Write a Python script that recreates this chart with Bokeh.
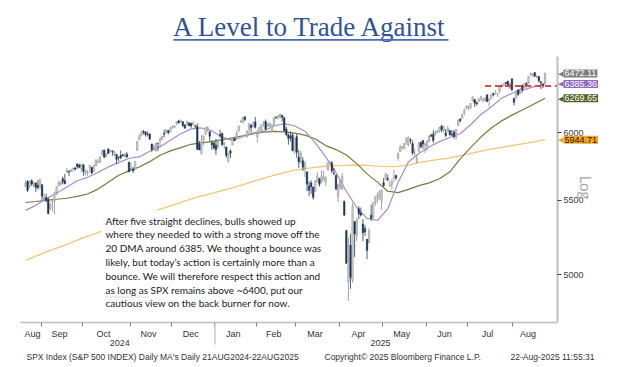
import math
from bokeh.plotting import figure
from bokeh.models import FixedTicker, LinearAxis, Label, BoxAnnotation, Range1d, NumeralTickFormatter
from bokeh.embed import file_html
from bokeh.resources import INLINE

# ---------------- data (S&P 500 daily, 21 Aug 2024 - 22 Aug 2025) ----------------
month_names = ["Aug", "Sep", "Oct", "Nov", "Dec", "Jan", "Feb", "Mar", "Apr", "May", "Jun", "Jul", "Aug"]
month_days = [8, 20, 23, 20, 21, 20, 19, 21, 21, 21, 20, 22, 16]
year_names = ["2024", "2025"]
year_first_month = [0, 5]

opens = [
    5603, 5637, 5603, 5640, 5602, 5624, 5607, 5612,
    5612, 5506, 5521, 5507, 5442, 5490, 5496, 5557, 5605, 5616, 5655, 5641, 5703, 5709, 5712, 5728, 5733, 5762, 5755, 5727,
    5757, 5698, 5698, 5737, 5738, 5712, 5752, 5778, 5775, 5830, 5866, 5817, 5875, 5860, 5857, 5833, 5834, 5813, 5826, 5831, 5816, 5835, 5776,
    5723, 5725, 5722, 5864, 5947, 5976, 6009, 6003, 5986, 5989, 5912, 5878, 5860, 5918, 5933, 5947, 5993, 6001, 6014, 6003,
    6040, 6042, 6069, 6089, 6081, 6083, 6057, 6060, 6074, 6069, 6063, 6053, 6047, 5912, 5842, 5941, 5985, 6024, 6006, 5920, 5920,
    5904, 5892, 5983, 5993, 5910, 5890, 5783, 5860, 5905, 5954, 5975, 6015, 6081, 6076, 6121, 5969, 6026, 6058, 6066, 6082,
    5969, 5990, 6020, 6073, 6084, 6047, 6050, 6007, 6060, 6116, 6122, 6118, 6134, 6115, 6027, 5982, 5971, 5981, 5856,
    5968, 5812, 5782, 5786, 5726, 5705, 5603, 5624, 5595, 5564, 5635, 5655, 5633, 5646, 5630, 5718, 5775, 5771, 5695, 5679, 5527,
    5598, 5580, 5492, 5292, 4953, 5193, 4966, 5353, 5256, 5441, 5412, 5336, 5305, 5232, 5208, 5396, 5381, 5489, 5529, 5509, 5499,
    5626, 5645, 5656, 5605, 5614, 5663, 5679, 5807, 5855, 5886, 5878, 5929, 5903, 5945, 5915, 5842, 5781, 5854, 5925, 5939, 5903,
    5897, 5938, 5978, 5986, 5987, 6004, 6010, 6050, 6010, 5997, 6005, 6013, 5985, 6004, 5970, 6055, 6104, 6111, 6151, 6193,
    6187, 6191, 6247, 6260, 6233, 6242, 6268, 6255, 6255, 6296, 6253, 6265, 6305, 6304, 6306, 6327, 6368, 6371, 6397, 6409, 6376, 6428,
    6270, 6272, 6337, 6309, 6375, 6353, 6389, 6397, 6461, 6454, 6479, 6445, 6447, 6404, 6380, 6389,
]
highs = [
    5643, 5643, 5641, 5651, 5632, 5627, 5646, 5651,
    5613, 5552, 5546, 5523, 5484, 5498, 5561, 5600, 5636, 5637, 5670, 5690, 5734, 5716, 5725, 5735, 5741, 5767, 5764, 5765,
    5758, 5720, 5718, 5753, 5739, 5758, 5797, 5796, 5822, 5871, 5870, 5842, 5878, 5865, 5866, 5863, 5834, 5818, 5863, 5837, 5848, 5851, 5779,
    5773, 5741, 5784, 5937, 5983, 6013, 6018, 6010, 6009, 5993, 5915, 5908, 5922, 5921, 5963, 5972, 6020, 6025, 6020, 6045,
    6053, 6053, 6089, 6099, 6100, 6089, 6065, 6092, 6080, 6078, 6086, 6058, 6070, 5935, 5982, 5978, 6040, 6049, 6007, 5941, 5930,
    5950, 5950, 6022, 6000, 5928, 5890, 5845, 5871, 5961, 5960, 6014, 6052, 6100, 6119, 6128, 6017, 6074, 6063, 6087, 6121,
    6022, 6042, 6062, 6084, 6101, 6074, 6076, 6063, 6116, 6127, 6130, 6147, 6135, 6118, 6044, 5992, 6009, 5994, 5960,
    5987, 5866, 5860, 5812, 5783, 5705, 5636, 5642, 5598, 5646, 5704, 5662, 5715, 5711, 5670, 5775, 5786, 5783, 5733, 5685, 5613,
    5650, 5696, 5500, 5292, 5246, 5267, 5481, 5353, 5381, 5459, 5450, 5368, 5328, 5232, 5309, 5469, 5489, 5529, 5554, 5571, 5581,
    5659, 5700, 5684, 5641, 5654, 5721, 5684, 5845, 5906, 5894, 5920, 5959, 5969, 5955, 5939, 5878, 5830, 5924, 5930, 5944, 5922,
    5938, 5982, 5991, 6017, 6017, 6022, 6044, 6059, 6045, 6027, 6051, 6023, 6019, 6019, 6026, 6102, 6109, 6146, 6188, 6215,
    6211, 6228, 6285, 6263, 6243, 6269, 6290, 6269, 6276, 6303, 6265, 6301, 6316, 6336, 6310, 6360, 6381, 6390, 6402, 6410, 6390, 6428,
    6270, 6330, 6344, 6350, 6379, 6390, 6402, 6446, 6481, 6474, 6482, 6457, 6448, 6405, 6393, 6480,
]
lows = [
    5595, 5560, 5585, 5603, 5593, 5560, 5577, 5582,
    5502, 5503, 5486, 5403, 5434, 5420, 5406, 5536, 5600, 5605, 5614, 5615, 5695, 5674, 5704, 5704, 5716, 5728, 5730, 5704,
    5676, 5679, 5675, 5702, 5690, 5707, 5746, 5764, 5775, 5830, 5804, 5811, 5840, 5847, 5824, 5821, 5763, 5784, 5799, 5819, 5811, 5811, 5703,
    5723, 5697, 5721, 5864, 5939, 5971, 5985, 5969, 5969, 5946, 5854, 5866, 5853, 5860, 5887, 5945, 5963, 5992, 5985, 6003,
    6028, 6034, 6058, 6069, 6077, 6044, 6027, 6060, 6051, 6036, 6060, 6035, 5867, 5866, 5832, 5903, 5983, 6007, 5932, 5869, 5871,
    5830, 5876, 5960, 5896, 5874, 5809, 5774, 5807, 5905, 5936, 5975, 6006, 6077, 6075, 6089, 5962, 5995, 6003, 6037, 6031,
    5924, 5990, 6007, 6045, 6020, 6044, 6042, 6004, 6051, 6104, 6100, 6111, 6085, 6009, 5975, 5908, 5932, 5858, 5837,
    5810, 5733, 5762, 5711, 5667, 5565, 5529, 5546, 5505, 5564, 5628, 5598, 5622, 5640, 5603, 5718, 5765, 5695, 5681, 5572, 5489,
    5574, 5578, 5390, 5069, 4835, 4911, 4950, 5115, 5221, 5369, 5387, 5220, 5255, 5101, 5208, 5357, 5372, 5463, 5478, 5505, 5433,
    5597, 5645, 5635, 5597, 5578, 5628, 5646, 5786, 5853, 5868, 5875, 5907, 5895, 5915, 5830, 5817, 5768, 5854, 5885, 5875, 5843,
    5861, 5922, 5967, 5921, 5978, 5995, 5998, 6002, 6004, 5963, 6003, 5975, 5973, 5953, 5944, 6051, 6078, 6106, 6133, 6180,
    6175, 6187, 6244, 6201, 6211, 6241, 6249, 6237, 6241, 6238, 6201, 6263, 6285, 6304, 6281, 6311, 6360, 6369, 6380, 6359, 6346, 6326,
    6212, 6272, 6289, 6303, 6316, 6353, 6358, 6385, 6456, 6441, 6441, 6432, 6397, 6343, 6353, 6387,
]
closes = [
    5621, 5571, 5635, 5617, 5626, 5592, 5592, 5648,
    5529, 5520, 5503, 5408, 5471, 5496, 5554, 5596, 5626, 5633, 5635, 5618, 5714, 5703, 5719, 5733, 5722, 5745, 5738, 5762,
    5709, 5710, 5700, 5751, 5696, 5751, 5792, 5780, 5815, 5860, 5815, 5842, 5841, 5865, 5854, 5851, 5797, 5810, 5808, 5824, 5833, 5814, 5705,
    5729, 5713, 5783, 5929, 5973, 5996, 6001, 5984, 5985, 5949, 5871, 5894, 5917, 5917, 5949, 5969, 5987, 6022, 5999, 6032,
    6047, 6050, 6086, 6075, 6090, 6053, 6035, 6084, 6051, 6051, 6074, 6051, 5872, 5867, 5931, 5974, 6040, 6038, 5971, 5907, 5882,
    5869, 5942, 5975, 5909, 5918, 5827, 5836, 5843, 5950, 5937, 5997, 6049, 6086, 6119, 6101, 6012, 6068, 6039, 6071, 6041,
    5995, 6038, 6061, 6084, 6026, 6066, 6069, 6052, 6115, 6115, 6130, 6144, 6118, 6013, 5983, 5955, 5956, 5862, 5955,
    5850, 5778, 5843, 5739, 5770, 5615, 5572, 5599, 5522, 5639, 5675, 5615, 5675, 5663, 5668, 5768, 5777, 5712, 5693, 5581, 5612,
    5633, 5671, 5397, 5074, 5062, 4983, 5457, 5268, 5363, 5406, 5397, 5276, 5283, 5158, 5288, 5376, 5485, 5525, 5529, 5561, 5569,
    5604, 5687, 5650, 5607, 5631, 5664, 5660, 5844, 5887, 5893, 5917, 5958, 5964, 5940, 5845, 5842, 5803, 5922, 5889, 5912, 5912,
    5936, 5970, 5971, 5939, 6000, 6006, 6039, 6022, 6045, 5977, 6033, 5983, 5981, 5968, 6025, 6092, 6092, 6141, 6173, 6205,
    6198, 6227, 6279, 6230, 6226, 6263, 6280, 6260, 6269, 6244, 6264, 6297, 6297, 6306, 6310, 6359, 6363, 6389, 6390, 6371, 6363, 6339,
    6238, 6330, 6299, 6345, 6340, 6389, 6373, 6446, 6467, 6469, 6450, 6449, 6411, 6396, 6370, 6472.11,
]

# moving averages, at these trading-day positions
ma_x = [0, 5, 10, 15, 20, 25, 30, 35, 40, 45, 50, 55, 60, 65, 70, 75, 80, 85, 90, 95, 100,
        105, 110, 115, 120, 125, 130, 135, 140, 145, 150, 155, 160, 165, 170, 175, 180, 185,
        190, 195, 200, 205, 210, 215, 220, 225, 230, 235, 240, 245, 251]
ma20 = [5430, 5465, 5512, 5550, 5595, 5640, 5665, 5700, 5741, 5773, 5805, 5815, 5858, 5892, 5940,
        5990, 6028, 6035, 6012, 5965, 5940, 5970, 5990, 6010, 6050, 6068, 6050, 6010, 5920, 5815,
        5700, 5565, 5450, 5375, 5360, 5440, 5628, 5777, 5840, 5890, 5930, 5962, 5990, 6060, 6140,
        6200, 6270, 6310, 6335, 6360, 6385.36]
ma50 = [5485, 5492, 5500, 5508, 5515, 5528, 5545, 5580, 5630, 5680, 5712, 5740, 5780, 5827, 5860,
        5885, 5910, 5920, 5930, 5943, 5960, 5975, 5995, 6003, 6008, 6005, 5995, 5980, 5950, 5900,
        5870, 5830, 5765, 5690, 5630, 5565, 5555, 5578, 5605, 5625, 5655, 5705, 5800, 5885, 5965,
        6035, 6090, 6135, 6175, 6218, 6269.65]
ma200 = [5092, 5120, 5148, 5173, 5199, 5227, 5252, 5277, 5305, 5330, 5359, 5384, 5410, 5437, 5461,
         5484, 5510, 5530, 5550, 5570, 5588, 5612, 5636, 5658, 5680, 5700, 5718, 5728, 5738, 5746,
         5750, 5753, 5755, 5752, 5747, 5743, 5745, 5755, 5773, 5785, 5796, 5808, 5825, 5840, 5858,
         5873, 5887, 5900, 5913, 5926, 5944.71]

last_price = 6472.11
trade_level = 6368
trade_level_from = 222
y_ticks = [5000, 5500, 6000]

title_text = "A Level to Trade Against"
note_text = ("After five straight declines, bulls showed up\n"
             "where they needed to with a strong move off the\n"
             "20 DMA around 6385. We thought a bounce was\n"
             "likely, but today\u2019s action is certainly more than a\n"
             "bounce. We will therefore respect this action and\n"
             "as long as SPX remains above ~6400, put our\n"
             "cautious view on the back burner for now.")
footer_left = "SPX Index (S&P 500 INDEX) Daily MA's  Daily 21AUG2024-22AUG2025"
footer_mid = "Copyright\u00a9 2025 Bloomberg Finance L.P."
footer_right = "22-Aug-2025 11:55:31"

# ---------------- layout / styling ----------------
SANS = "Liberation Sans"
C_UP_FILL, C_UP_LINE = "#D4D4D4", "#8C8C8C"
C_DN = "#1F3756"
C_MA20, C_MA50, C_MA200 = "#A98BD6", "#6F7F3D", "#F9C577"
C_LAST = "#7F7F7F"
C_TAG20, C_TAG50, C_TAG200 = "#8E6BBF", "#4F6228", "#F5A623"

W, H = 612, 362
FR_L, FR_R, FR_T, FR_B = 20, 557, 58, 322   # chart area on the page (px)
PX0, PXS = 25, 2.07                          # page x of first bar, px per bar
PY_REF, PRICE_REF, PX_PER_LN = 132, 6000, 780  # log price scale
LABEL_FRAC = 0.42                            # where a month label sits inside its month


def x_at(px):
    return (px - PX0) / PXS


def y_at(py):
    return PRICE_REF * math.exp((PY_REF - py) / PX_PER_LN)


def sx(px):
    return px


def sy(py):
    return H - py


n = len(closes)
idx = list(range(n))

starts = []
acc = 0
for d in month_days:
    starts.append(acc)
    acc += d
month_pos = [st + LABEL_FRAC * d for st, d in zip(starts, month_days)]
month_bounds = [st - 0.5 for st in starts[1:]]
year_start_idx = [starts[m] for m in year_first_month] + [n]
year_centers = [(a + b - 1) / 2 for a, b in zip(year_start_idx[:-1], year_start_idx[1:])]
year_bounds = [b - 0.5 for b in year_start_idx[1:-1]]

p = figure(width=W, height=H, output_backend="svg", toolbar_location=None,
           x_range=Range1d(x_at(0), x_at(W)), y_range=Range1d(y_at(H), y_at(0)),
           y_axis_type="log", y_axis_location="right", min_border=0)
p.title.visible = False
p.outline_line_color = None
p.grid.visible = False
p.background_fill_color = "white"
p.border_fill_color = "white"

# moving averages
p.line(ma_x, ma200, color=C_MA200, line_width=1.3)
p.line(ma_x, ma50, color=C_MA50, line_width=1.2)
p.line(ma_x, ma20, color=C_MA20, line_width=1.2)

# candles
up = [c >= o for o, c in zip(opens, closes)]
for flag, fill, line in ((True, C_UP_FILL, C_UP_LINE), (False, C_DN, C_DN)):
    xs = [i for i in idx if up[i] == flag]
    p.segment(x0=xs, y0=[lows[i] for i in xs], x1=xs, y1=[highs[i] for i in xs],
              color=line, line_width=0.8)
    p.vbar(x=xs, width=0.72,
           top=[max(opens[i], closes[i]) for i in xs],
           bottom=[min(opens[i], closes[i]) for i in xs],
           fill_color=fill, line_color=line, line_width=0.5)

# red dashed level
p.line([trade_level_from, x_at(FR_R)], [trade_level, trade_level],
       color="#E8453C", line_width=2, line_dash="6 4")

# bottom axis: months (labels pushed down by an invisible major tick)
xa = p.xaxis[0]
xa.fixed_location = y_at(FR_B)
xa.bounds = (x_at(FR_L), x_at(FR_R))
xa.ticker = FixedTicker(ticks=month_pos, minor_ticks=month_bounds)
xa.major_label_overrides = {c: m for c, m in zip(month_pos, month_names)}
xa.major_tick_out = 6
xa.major_tick_in = 0
xa.major_tick_line_color = None
xa.minor_tick_out = 4
xa.minor_tick_in = 0
xa.axis_line_color = "#BFBFBF"
xa.axis_line_width = 1.5
xa.minor_tick_line_color = "#808080"
xa.major_label_text_font = SANS
xa.major_label_text_font_size = "9px"
xa.major_label_text_color = "#333333"
xa.major_label_standoff = 0

# bottom axis: years
yr = LinearAxis(ticker=FixedTicker(ticks=year_centers),
                fixed_location=y_at(FR_B),
                major_label_overrides={c: y for c, y in zip(year_centers, year_names)},
                axis_line_color=None, major_tick_out=17, major_tick_in=0,
                major_tick_line_color=None, minor_tick_line_color=None,
                major_label_standoff=0, major_label_text_font=SANS,
                major_label_text_font_size="9px", major_label_text_color="#333333")
p.add_layout(yr, "below")

# year separator tick
for b in year_bounds:
    p.add_layout(BoxAnnotation(left=b - 0.3, right=b + 0.3, top=sy(323), bottom=sy(344),
                               top_units="screen", bottom_units="screen",
                               fill_color="#BFBFBF", fill_alpha=1, line_color=None))

# right axis
ra = p.yaxis[0]
ra.fixed_location = x_at(FR_R)
ra.bounds = (y_at(FR_B), y_at(FR_T - 2))
ra.ticker = FixedTicker(ticks=y_ticks)
ra.formatter = NumeralTickFormatter(format="0")
ra.major_tick_out = 4
ra.major_tick_in = 0
ra.major_tick_line_color = "#404040"
ra.axis_line_color = "#BFBFBF"
ra.axis_line_width = 2
ra.major_label_standoff = 2
ra.major_label_text_font = SANS
ra.major_label_text_font_size = "9px"
ra.major_label_text_color = "#404040"

# value tags on the right
for val, bg, fg in ((last_price, C_LAST, "white"), (ma20[-1], C_TAG20, "white"),
                    (ma50[-1], C_TAG50, "white"), (ma200[-1], C_TAG200, "#1A1A1A")):
    p.add_layout(Label(x=sx(560), x_units="screen", y=val, text="\u25C0", text_color=bg,
                       text_font_size="7px", text_align="center", text_baseline="middle"))
    p.add_layout(Label(x=sx(563), x_units="screen", y=val, text=f"{val:.2f}",
                       text_font=SANS, text_font_size="9px", text_color=fg,
                       text_align="left", text_baseline="middle",
                       background_fill_color=bg, padding=1))

# "Log"
p.add_layout(Label(x=sx(585), y=sy(187), x_units="screen", y_units="screen", text="Log",
                   angle=-math.pi / 2, text_font="Lato", text_font_size="15px",
                   text_color="#A6A6A6", text_align="center", text_baseline="middle"))

# comment box
p.add_layout(Label(x=sx(101), y=sy(210), x_units="screen", y_units="screen", text=note_text,
                   text_font="Lato", text_font_size="10px", text_color="#1A1A1A",
                   text_align="left", text_baseline="top", text_line_height=1.15,
                   background_fill_color="white", padding=4))
p.add_layout(BoxAnnotation(left=sx(105), right=sx(148), top=sy(296), bottom=sy(297),
                           left_units="screen", right_units="screen", top_units="screen",
                           bottom_units="screen", fill_alpha=0, line_color="#6A8DD8",
                           line_dash="1 1", line_width=1))

# title with underline
p.add_layout(Label(x=sx(310), y=sy(26), x_units="screen", y_units="screen", text=title_text,
                   text_font="Liberation Serif", text_font_size="27px", text_color="#2F5496",
                   text_align="center", text_baseline="middle"))
p.add_layout(BoxAnnotation(left=sx(173), right=sx(448), top=sy(38.5), bottom=sy(40.2),
                           left_units="screen", right_units="screen", top_units="screen",
                           bottom_units="screen", fill_color="#4A6DB0", fill_alpha=1,
                           line_color=None))

# footer
for txt, x in ((footer_left, 26), (footer_mid, 324), (footer_right, 510)):
    p.add_layout(Label(x=sx(x), y=sy(356), x_units="screen", y_units="screen", text=txt,
                       text_font=SANS, text_font_size="8.5px", text_color="#333333",
                       text_align="left", text_baseline="middle"))

open("out.html", "w").write(file_html(p, INLINE))
